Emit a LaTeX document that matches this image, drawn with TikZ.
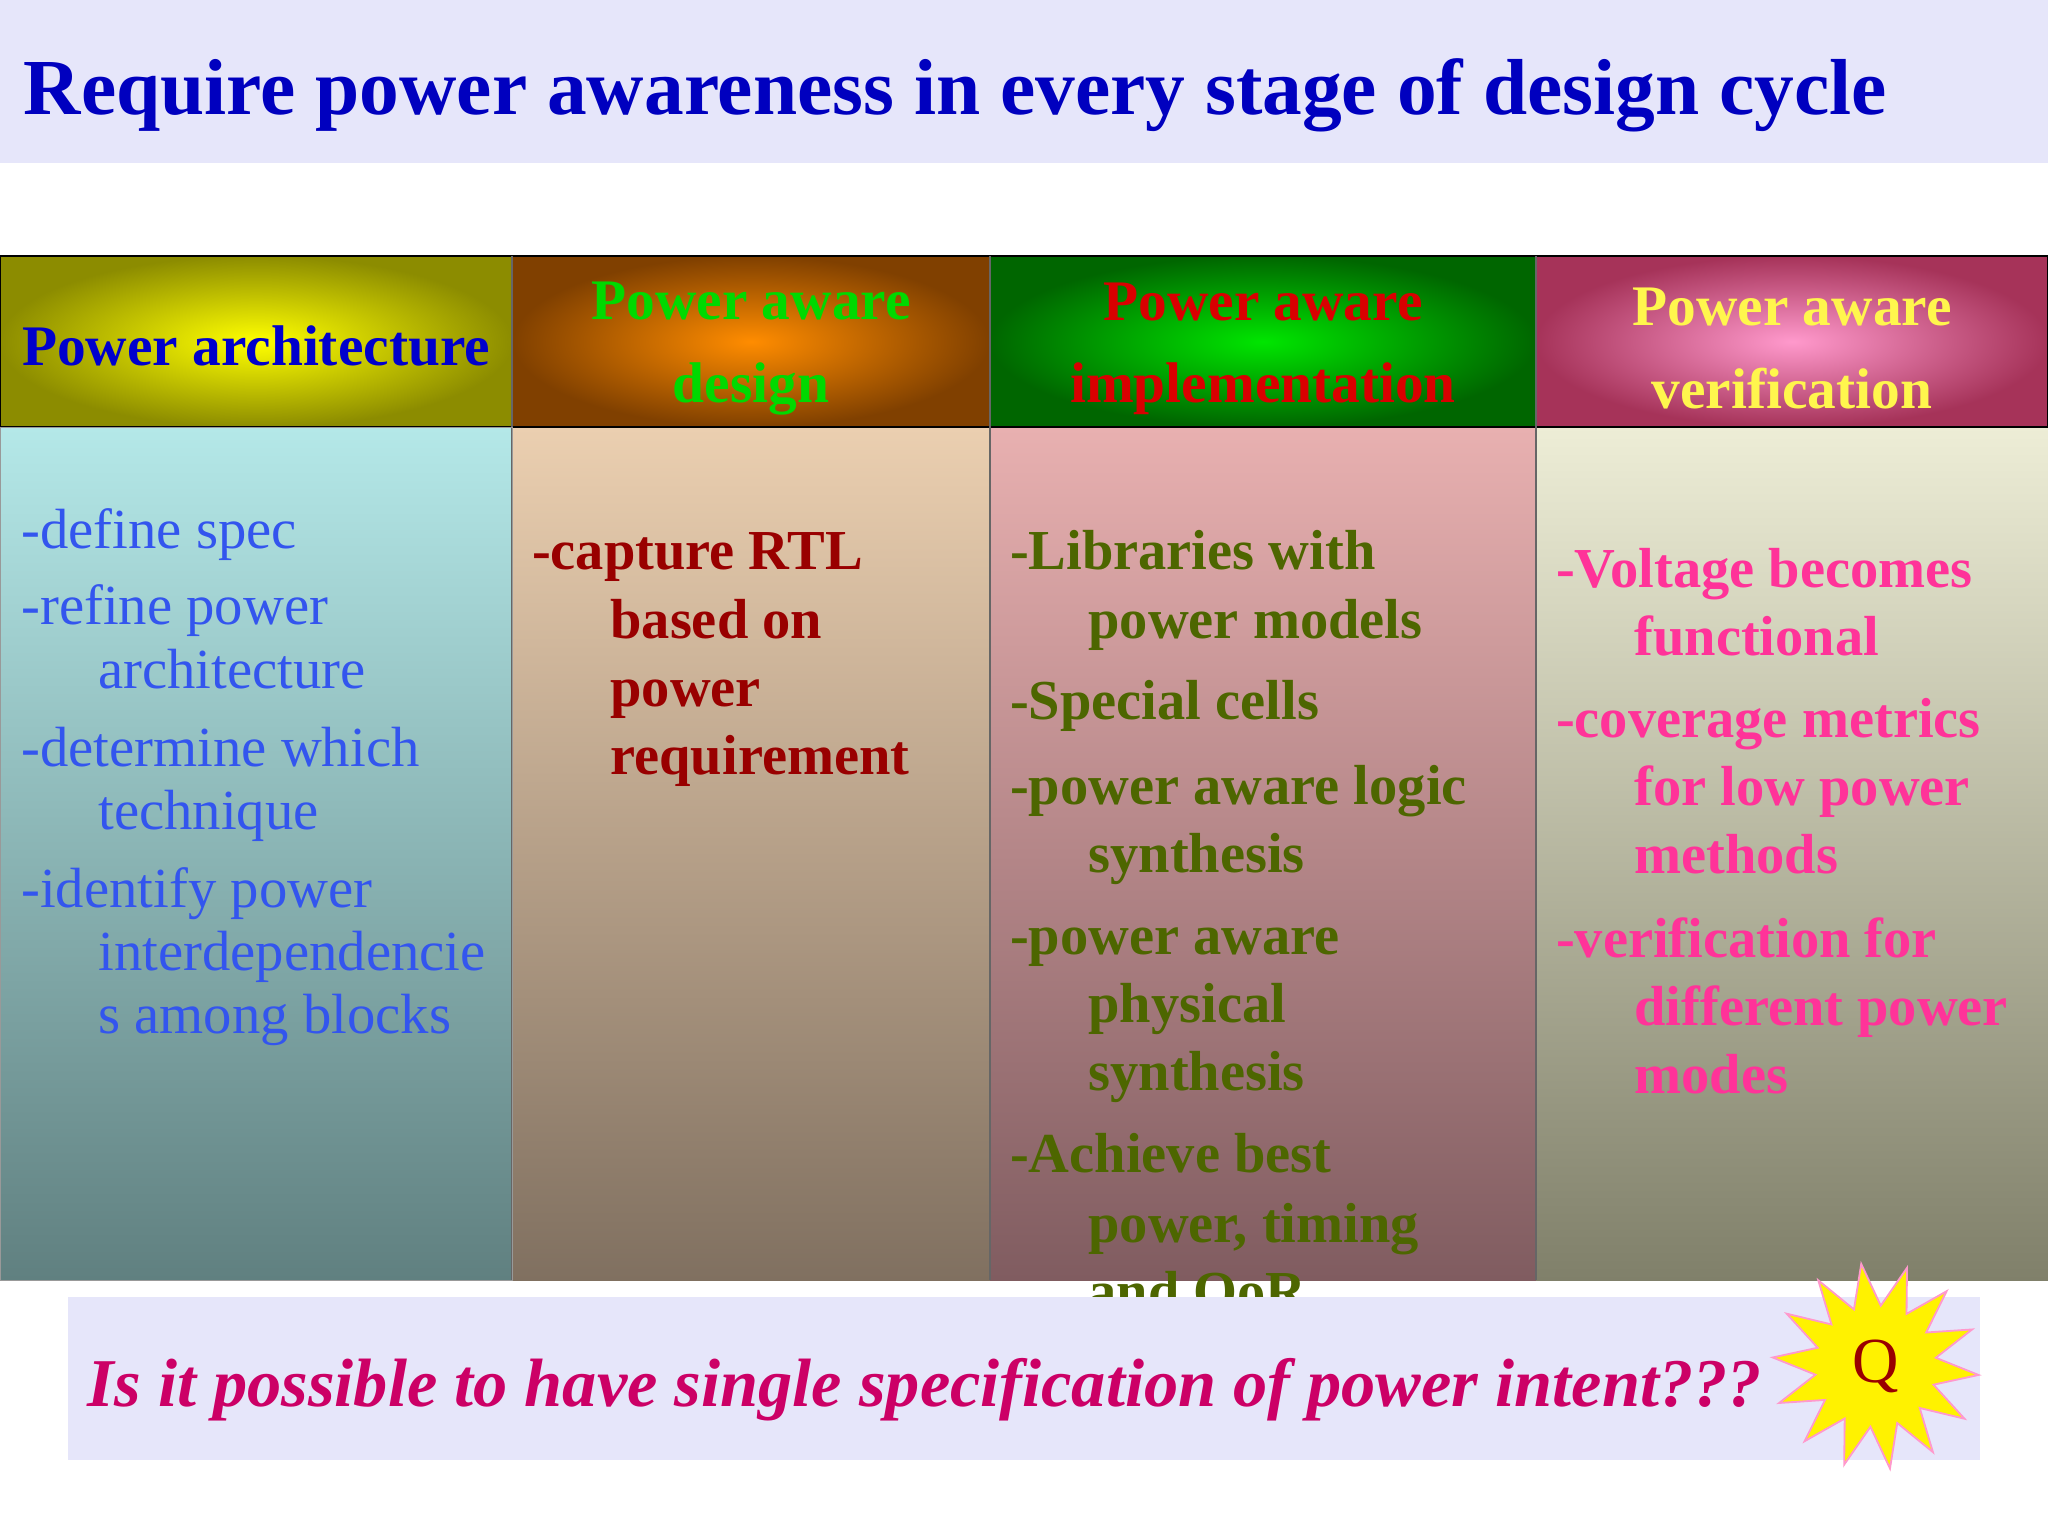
\documentclass[tikz,border=0pt]{standalone}
\usepackage{fontspec}
\setmainfont{Liberation Serif}
\usetikzlibrary{shapes.geometric}
\definecolor{lav}{HTML}{E6E6FA}
\definecolor{c1}{HTML}{3355EE}
\definecolor{c2}{HTML}{990000}
\definecolor{c3}{HTML}{4D6600}
\definecolor{c4}{HTML}{FF3399}
\begin{document}
\begin{tikzpicture}[x=0.02cm,y=-0.02cm,
 tl/.style={anchor=base west,inner sep=0pt,font=\fontsize{24.7}{24}\selectfont},
 bl/.style={anchor=base west,inner sep=0pt,font=\bfseries\fontsize{24.6}{24}\selectfont},
 hd/.style={align=center,font=\bfseries\fontsize{25}{36}\selectfont,inner sep=0pt}]
\useasboundingbox (0,0) rectangle (1568,1176);
\fill[white] (0,0) rectangle (1568,1176);
\fill[lav] (0,0) rectangle (1568,125);
\node[anchor=base west,inner sep=0pt,text=blue!75!black,font=\bfseries\fontsize{34.6}{34}\selectfont] (title) at (18,88) {Require power awareness in every stage of design cycle};
% headers
\shade[inner color=yellow,outer color=yellow!55!black] (0,196) rectangle (392,327);
\shade[inner color=orange!90!yellow,outer color=orange!50!black] (392,196) rectangle (758,327);
\shade[inner color=green!90!black,outer color=green!40!black] (758,196) rectangle (1176,327);
\shade[inner color=pink!80!magenta,outer color=purple!60!gray] (1176,196) rectangle (1568,327);
% bodies
\shade[top color={rgb,255:red,180;green,232;blue,232},bottom color={rgb,255:red,96;green,128;blue,128}] (0,327) rectangle (392,980);
\shade[top color={rgb,255:red,235;green,207;blue,176},bottom color={rgb,255:red,128;green,112;blue,96}] (392,327) rectangle (758,980);
\shade[top color={rgb,255:red,232;green,176;blue,176},bottom color={rgb,255:red,128;green,92;blue,96}] (758,327) rectangle (1176,980);
\shade[top color={rgb,255:red,237;green,237;blue,214},bottom color={rgb,255:red,128;green,128;blue,106}] (1176,327) rectangle (1568,980);
\draw[line width=1pt] (0,196) rectangle (1568,327);
\foreach \x in {392,758,1176} \draw[line width=0.6pt,black!60] (\x,196) -- (\x,980);
\draw[line width=0.4pt,black!40] (0,327) rectangle (392,980);
\node[hd,text=blue!80!black] (h1) at (196,265) {Power architecture};
\node[hd,text=green!85!black] (h2) at (575,267) {Power aware\\design};
\node[hd,text=red!85!black] (h3) at (967,267) {Power aware\\implementation};
\node[hd,text=yellow!70!white] (h4) at (1372,267) {Power aware\\verification};
% col1
\begin{scope}[every node/.style={tl,text=c1}]
\node (a1) at (16,420) {-define spec};
\node (a2) at (16,478) {-refine power};
\node (a3) at (75,527) {architecture};
\node (a4) at (16,587) {-determine which};
\node (a5) at (75,635) {technique};
\node (a6) at (16,695) {-identify power};
\node (a7) at (75,743) {interdependencie};
\node (a8) at (75,791) {s among blocks};
\end{scope}
\begin{scope}[every node/.style={bl,text=c2}]
\node (b1) at (407,436) {-capture RTL};
\node (b2) at (467,489) {based on};
\node (b3) at (467,541) {power};
\node (b4) at (467,593) {requirement};
\end{scope}
\begin{scope}[every node/.style={bl,text=c3}]
\node at (773,436) {-Libraries with};
\node at (833,489) {power models};
\node at (773,551) {-Special cells};
\node at (773,616) {-power aware logic};
\node at (833,668) {synthesis};
\node at (773,731) {-power aware};
\node at (833,783) {physical};
\node at (833,835) {synthesis};
\node at (773,898) {-Achieve best};
\node at (833,951) {power, timing};
\node at (833,1003) {and QoR};
\end{scope}
\begin{scope}[every node/.style={bl,text=c4}]
\node at (1191,450) {-Voltage becomes};
\node at (1251,502) {functional};
\node at (1191,565) {-coverage metrics};
\node at (1251,617) {for low power};
\node at (1251,669) {methods};
\node at (1191,733) {-verification for};
\node at (1251,785) {different power};
\node at (1251,837) {modes};
\end{scope}
% bottom
\fill[lav] (52,993) rectangle (1516,1118);
\node[anchor=base west,inner sep=0pt,text={rgb,255:red,204;green,0;blue,102},font=\bfseries\itshape\fontsize{29.8}{29}\selectfont] (q) at (67,1077) {Is it possible to have single specification of power intent???};
\node[star,star points=14,star point ratio=1.7,minimum size=90pt,fill=yellow,draw=pink!80!magenta,line width=0.8pt,inner sep=0pt,rotate=8] (st) at (1436,1046) {};
\node[text=c2,font=\fontsize{28}{28}\selectfont] (ql) at (st) {Q};
\end{tikzpicture}
\end{document}
